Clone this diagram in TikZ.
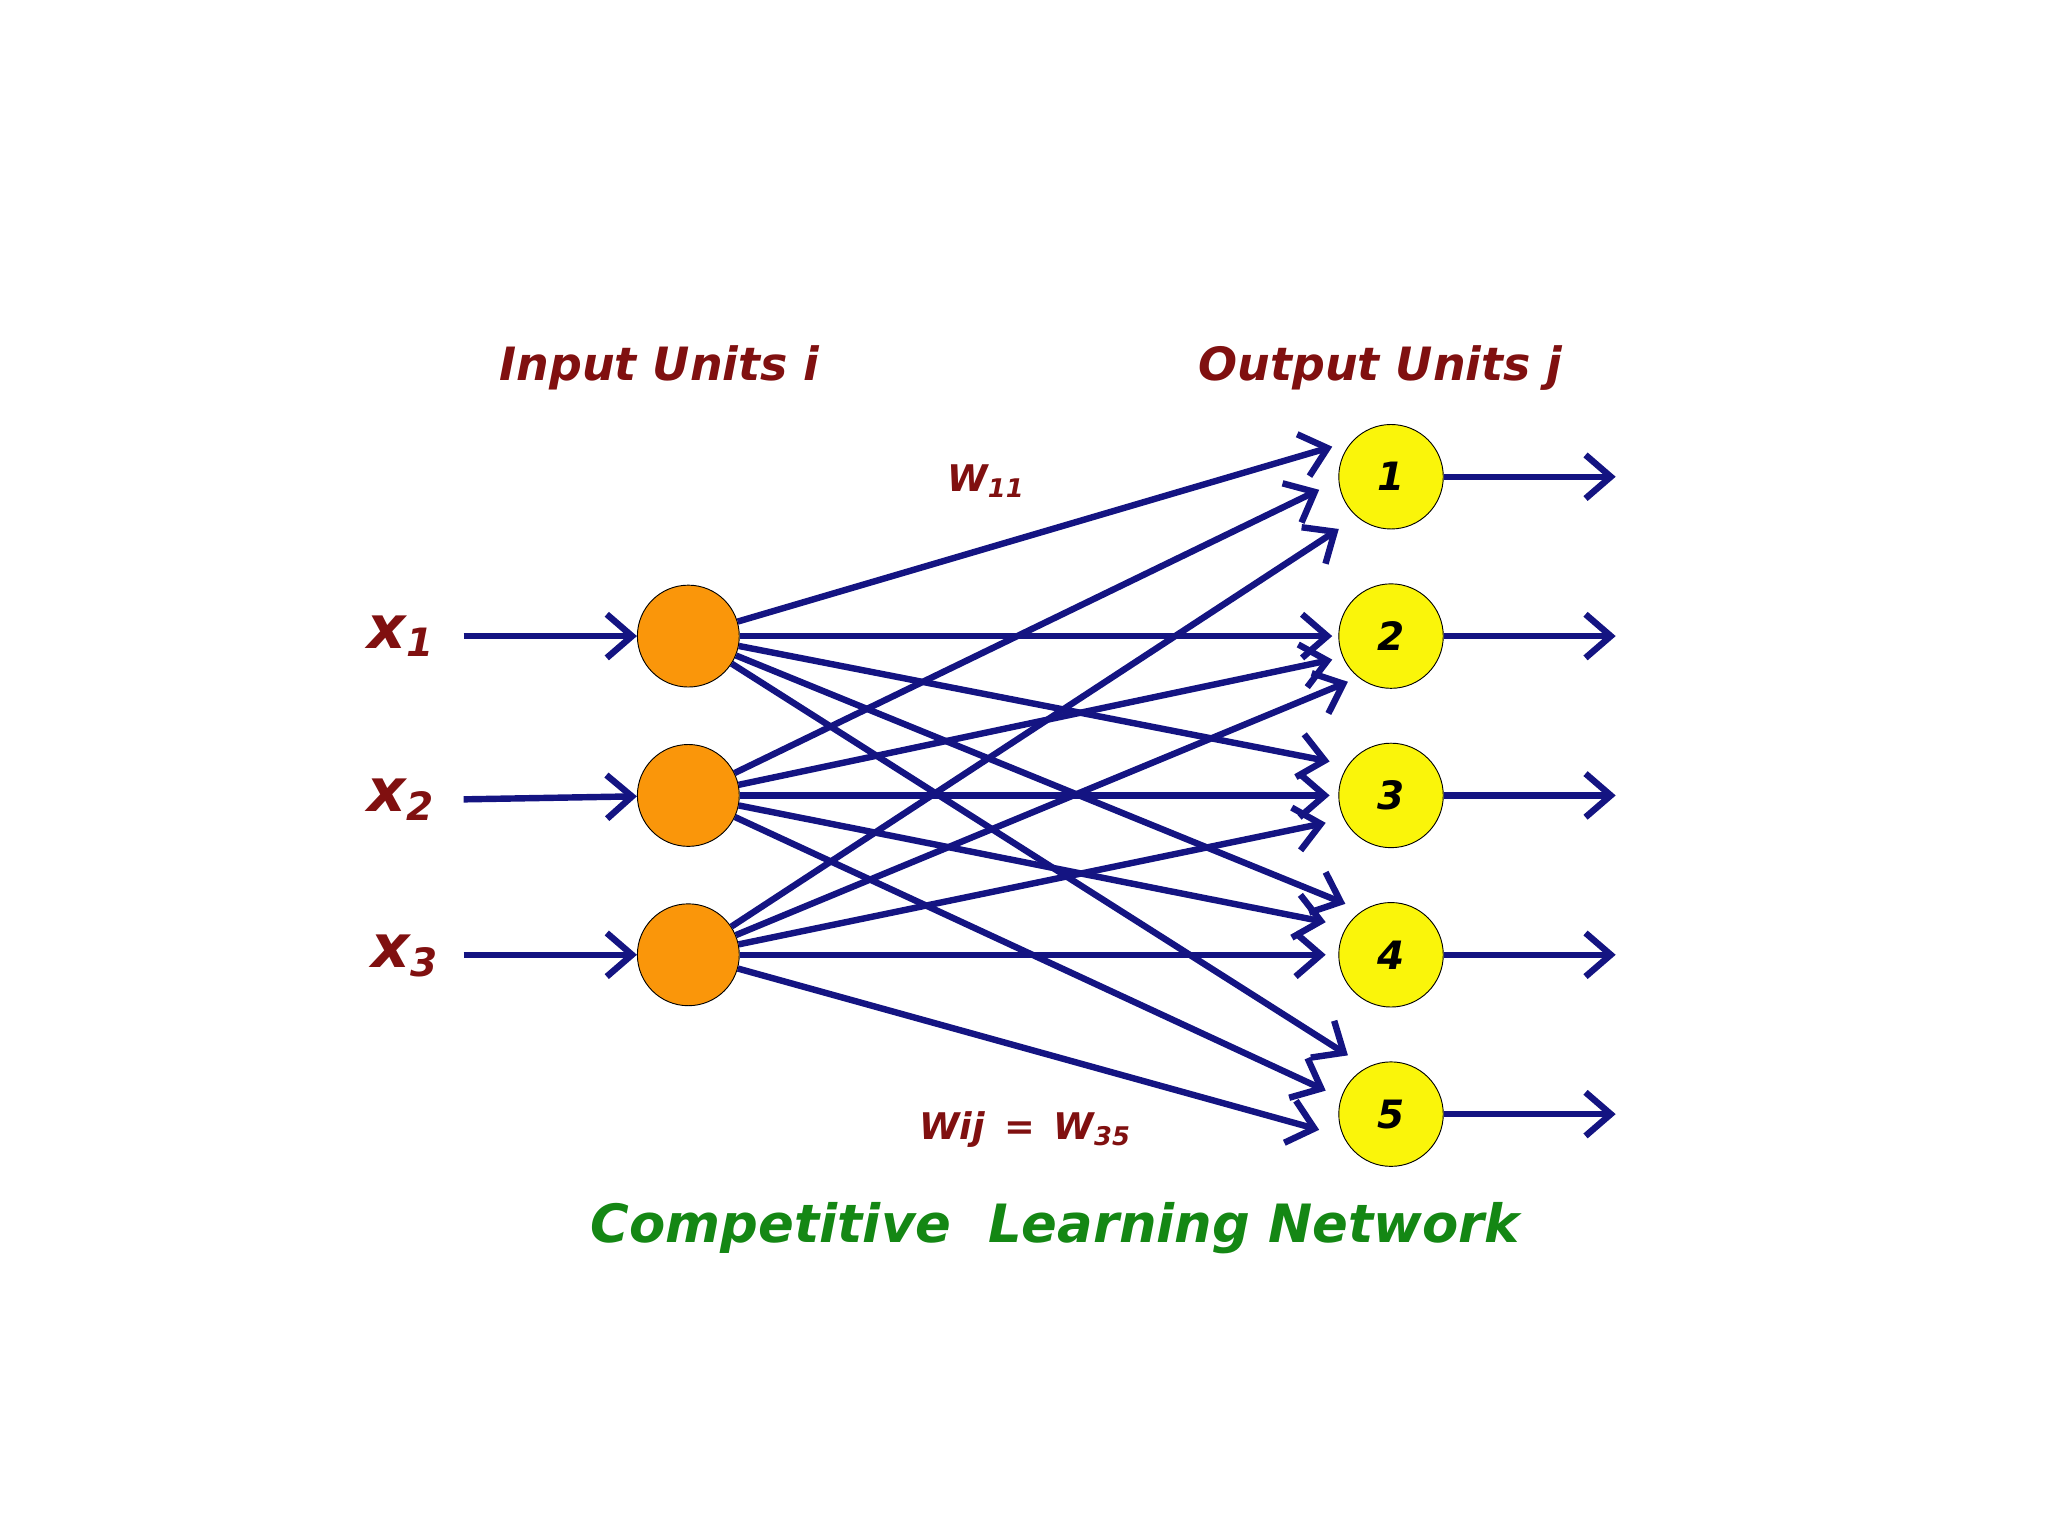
\documentclass[tikz,border=0pt]{standalone}
\usepackage{fontspec}
\setmainfont{DejaVu Sans}
\usetikzlibrary{arrows.meta,calc}
\definecolor{navy}{RGB}{20,20,130}
\definecolor{dred}{RGB}{128,16,16}
\definecolor{dgreen}{RGB}{20,135,20}
\definecolor{orng}{RGB}{250,150,10}
\definecolor{yel}{RGB}{250,245,10}
\begin{document}
\begin{tikzpicture}[x=0.02cm,y=-0.02cm,
 inp/.style={circle,draw=black,fill=orng,minimum size=78*0.02cm,inner sep=0},
 outp/.style={circle,draw=black,fill=yel,minimum size=80*0.02cm,inner sep=0,font=\fontsize{17}{17}\selectfont\bfseries\itshape},
 arr/.style={draw=navy,line width=2.8pt,-{Straight Barb[length=11pt,width=19pt,line width=2.8pt]}},
 lab/.style={text=dred,font=\fontsize{20}{24}\selectfont\bfseries\itshape},
 wl/.style={text=dred,font=\fontsize{16}{18}\selectfont\bfseries\itshape}]
\useasboundingbox (0,0) rectangle (1568,1176);
\node[inp] (i1) at (527,487) {};
\node[inp] (i2) at (527,609) {};
\node[inp] (i3) at (527,731) {};
\foreach \k/\y in {1/365,2/487,3/609,4/731,5/853}{
  \node[outp] (o\k) at (1065,\y) {\k};
  \coordinate (e\k) at (1237,\y);
  \draw[arr] (o\k) -- (e\k);
}
\foreach \k/\y in {1/487,2/612,3/731}{
  \coordinate (s\k) at (355,\y);
  \draw[arr] (s\k) -- (i\k);
}
\node[lab,font=\fontsize{26}{28}\selectfont\bfseries\itshape] (x1) at (307,487) {x\textsubscript{\fontsize{17}{17}\selectfont 1}};
\node[lab,font=\fontsize{26}{28}\selectfont\bfseries\itshape] (x2) at (307,612) {x\textsubscript{\fontsize{17}{17}\selectfont 2}};
\node[lab,font=\fontsize{26}{28}\selectfont\bfseries\itshape] (x3) at (310,732) {x\textsubscript{\fontsize{17}{17}\selectfont 3}};
% targets (a = input, b = output), offsets from output centre
\foreach \a/\b/\dx/\dy in {1/1/-45/-23, 2/1/-55/10, 3/1/-40/40,
  1/2/-45/0, 2/2/-45/18, 3/2/-33/35,
  1/3/-47/-26, 2/3/-47/0, 3/3/-50/21,
  1/4/-35/-39, 2/4/-50/-25, 3/4/-50/0,
  1/5/-33/-45, 2/5/-50/-18, 3/5/-55/12}{
  \coordinate (t\a\b) at ($(o\b)+(\dx,\dy)$);
  \draw[arr] (i\a) -- (t\a\b);
}
\node[lab] (t1) at (505,282) {Input Units i};
\node[lab] (t2) at (1057,282) {Output Units j};
\node[wl] (w11) at (755,368) {W\textsubscript{11}};
\node[wl] (w35) at (785,865) {Wij \,=\, W\textsubscript{35}};
\node[text=dgreen,font=\fontsize{23}{26}\selectfont\bfseries\itshape] (title) at (808,940) {Competitive\ \ Learning Network};
\end{tikzpicture}
\end{document}
